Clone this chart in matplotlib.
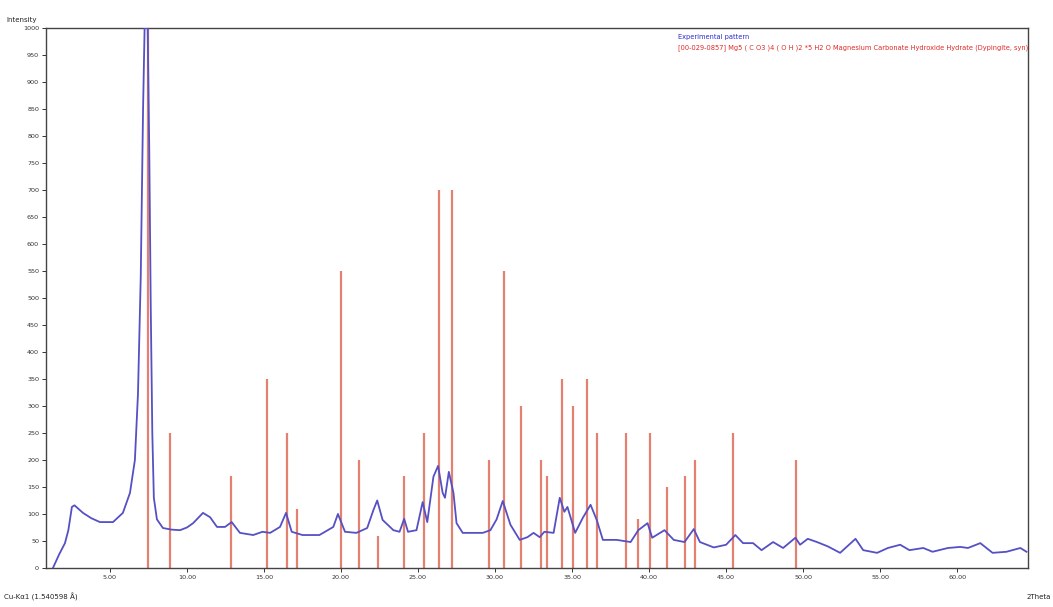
import numpy as np
import matplotlib
matplotlib.use("Agg")
import matplotlib.pyplot as plt

# measured pattern (2theta, counts)
two_theta = [1.3, 1.7, 2.08, 2.3, 2.53, 2.7, 3.25, 3.8, 4.35, 5.2, 5.84, 6.3, 6.62, 6.82,
             7.0, 7.15, 7.25, 7.35, 7.45, 7.55, 7.65, 7.75, 7.85, 8.05, 8.44, 9.0, 9.55, 10.0,
             10.4, 11.04, 11.5, 11.95, 12.47, 12.9, 13.44, 14.3, 14.9, 15.4, 16.04, 16.43,
             16.8, 17.5, 18.6, 19.5, 19.8, 20.26, 21.0, 21.7, 22.1, 22.35, 22.7, 23.4, 23.8,
             24.1, 24.35, 24.9, 25.3, 25.6, 26.0, 26.3, 26.6, 26.75, 27.0, 27.3, 27.5, 27.9,
             29.2, 29.7, 30.1, 30.5, 31.0, 31.6, 32.1, 32.5, 32.9, 33.2, 33.8, 34.2, 34.5,
             34.7, 35.2, 35.7, 36.2, 36.6, 37.0, 37.9, 38.8, 39.3, 39.9, 40.2, 41.0, 41.6,
             42.3, 42.9, 43.3, 44.2, 45.0, 45.6, 46.1, 46.75, 47.3, 48.05, 48.7, 49.5, 49.8,
             50.3, 50.9, 51.6, 52.4, 53.4, 53.9, 54.8, 55.5, 56.3, 56.9, 57.8, 58.4, 59.4,
             60.2, 60.7, 61.5, 62.3, 63.2, 64.1, 64.5]
intensity = [0, 25, 46, 70, 113, 116, 102, 92, 85, 85, 102, 139, 200, 323,
             540, 850, 1000, 1000, 1000, 780, 480, 250, 130, 90, 74, 71, 70, 75,
             83, 102, 94, 76, 76, 85, 65, 61, 67, 65, 76, 102,
             67, 61, 61, 76, 100, 67, 65, 74, 107, 125, 89, 70, 67,
             91, 67, 70, 122, 85, 169, 189, 139, 130, 178, 139, 83, 65,
             65, 70, 90, 124, 80, 52, 57, 65, 57, 67, 65, 130, 104,
             113, 65, 93, 117, 89, 52, 52, 48, 70, 83, 56, 70, 52,
             48, 72, 48, 38, 43, 61, 46, 46, 33, 48, 37, 56, 43,
             54, 48, 40, 28, 54, 33, 28, 37, 43, 33, 37, 30, 37,
             39, 37, 46, 28, 30, 37, 30]

# reference card sticks
ref_pos = [7.47, 8.90, 12.86, 15.19, 16.49, 17.14, 20.00, 21.17, 22.40, 24.09, 25.39,
           26.36, 27.21, 29.61, 30.58, 31.69, 32.99, 33.38, 34.35, 35.06, 35.97, 36.62,
           38.51, 39.29, 40.06, 41.17, 42.34, 42.99, 45.45, 49.55]
ref_int = [1000, 250, 170, 350, 250, 110, 550, 200, 60, 170, 250,
           700, 700, 200, 550, 300, 200, 170, 350, 300, 350, 250,
           250, 90, 250, 150, 170, 200, 250, 200]

xticks = [5, 10, 15, 20, 25, 30, 35, 40, 45, 50, 55, 60]
yticks = list(range(0, 1001, 50))

fig = plt.figure(figsize=(10.53, 6.07), dpi=100)
ax = fig.add_axes([0.0437, 0.0643, 0.9326, 0.8896])

ax.vlines(ref_pos, 0, ref_int, colors="#e4806f", linewidth=1.6, zorder=2)
ax.plot(two_theta, intensity, color="#5550c4", linewidth=1.3, zorder=3)

ax.set_xlim(0.85, 64.6)
ax.set_ylim(0, 1000)
ax.set_xticks(xticks)
ax.set_xticklabels([f"{v:.2f}" for v in xticks])
ax.set_yticks(yticks)
ax.tick_params(labelsize=4.6, length=3, width=0.7, colors="#333333", pad=2)
for s in ax.spines.values():
    s.set_color("#444444")
    s.set_linewidth(1.0)

fig.text(0.006, 0.962, "Intensity", fontsize=5, color="#222222", ha="left", va="bottom")
fig.text(0.004, 0.01, "Cu-K\u03b11 (1.540598 \u00c5)", fontsize=5, color="#222222", ha="left", va="bottom")
fig.text(0.998, 0.012, "2Theta", fontsize=5, color="#222222", ha="right", va="bottom")

ax.text(0.644, 0.988, "Experimental pattern", transform=ax.transAxes,
        fontsize=4.8, color="#2a2ad0", ha="left", va="top")
ax.text(0.644, 0.969,
        "[00-029-0857] Mg5 ( C O3 )4 ( O H )2 *5 H2 O Magnesium Carbonate Hydroxide Hydrate (Dypingite, syn)",
        transform=ax.transAxes, fontsize=4.8, color="#e02828", ha="left", va="top")

fig.savefig("out.png", dpi=100)
